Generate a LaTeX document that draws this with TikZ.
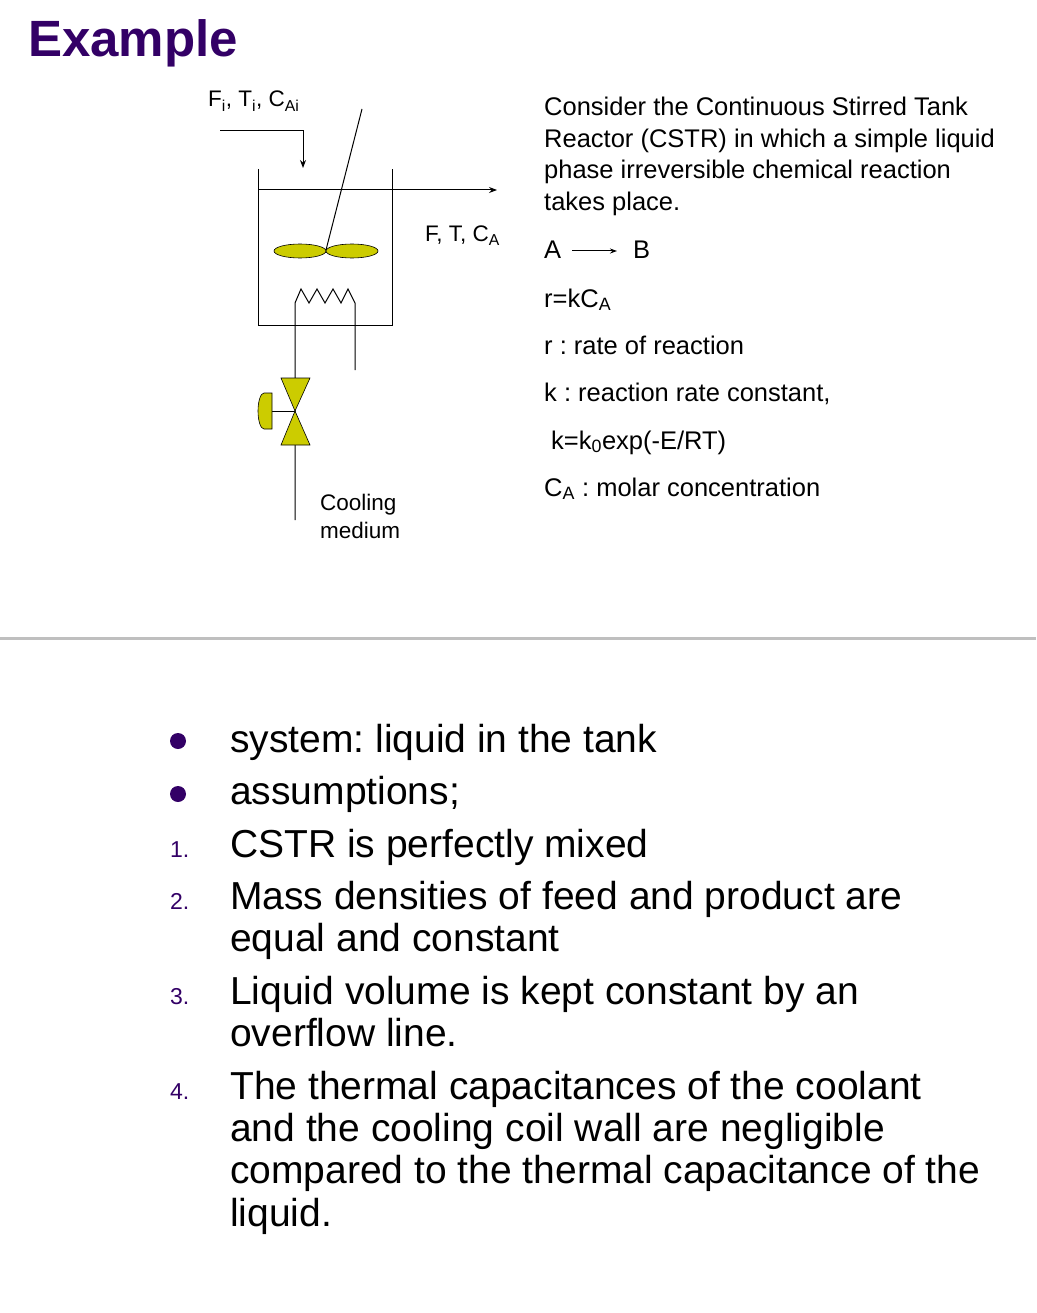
\documentclass[tikz,border=0pt]{standalone}
\usepackage{fontspec}
\setmainfont{Liberation Sans}
\usetikzlibrary{arrows.meta}
\definecolor{titlec}{HTML}{330066}
\definecolor{bulletc}{HTML}{330066}
\definecolor{yel}{HTML}{CCCC00}
\frenchspacing
\begin{document}
\begin{tikzpicture}[x=1pt,y=-1pt,
  lbl/.style={inner sep=0,anchor=base west,font=\fontsize{22.5}{25}\selectfont},
  rt/.style={inner sep=0,anchor=base west,font=\fontsize{25.5}{29}\selectfont},
  it/.style={inner sep=0,anchor=base west,font=\fontsize{39}{42}\selectfont},
  num/.style={inner sep=0,anchor=base west,font=\fontsize{23}{26}\selectfont,text=bulletc},
  pipe/.style={line width=1pt},
  fillyel/.style={fill=yel,draw=black,line width=0.6pt}]
\useasboundingbox (0,0) rectangle (1036,1313);
% title
\node[inner sep=0,anchor=base west,font=\fontsize{51}{56}\bfseries\selectfont,text=titlec] (title) at (28,57) {Example};
% tank
\draw[pipe] (258,169) -- (258,325) -- (392,325) -- (392,169);
\coordinate (inA) at (220,131); \coordinate (inB) at (303,131); \coordinate (inC) at (303,168);
\draw[pipe,-{Stealth[length=8pt,width=6pt]}] (inA) -- (inB) -- (inC);
\coordinate (lvA) at (258,190); \coordinate (lvB) at (497,190);
\draw[pipe,-{Stealth[length=8pt,width=6pt]}] (lvA) -- (lvB);
\coordinate (shT) at (362,109); \coordinate (shB) at (326,250);
\draw[pipe] (shT) -- (shB);
\draw[fillyel] (300,251) ellipse (26 and 7);
\draw[fillyel] (352,251) ellipse (26 and 7);
% coil
\draw[pipe] (295,520) -- (295,303) -- (301,289) -- (309,303) -- (317,289) -- (325,303) -- (333,289) -- (341,303) -- (348,289) -- (355,303) -- (355,370);
% valve
\draw[pipe] (295,411) -- (272,411);
\draw[fillyel] (281,378) -- (310,378) -- (295,411) -- cycle;
\draw[fillyel] (295,411) -- (281,445) -- (310,445) -- cycle;
\draw[fillyel] (272,393) -- (264,393) arc[start angle=90,end angle=270,x radius=6,y radius=-18] -- (272,429) -- cycle;
% labels
\node[lbl] (fi) at (208,107) {F\textsubscript{i}, T\textsubscript{i}, C\textsubscript{Ai}};
\node[lbl] (fo) at (425,242) {F, T, C\textsubscript{A}};
\node[lbl] (cool1) at (320,510) {Cooling};
\node[lbl] (cool2) at (320,538) {medium};
% right text
\node[rt] (r1) at (544,116) {Consider the Continuous Stirred Tank};
\node[rt] (r2) at (544,148) {Reactor (CSTR) in which a simple liquid};
\node[rt] (r3) at (544,179) {phase irreversible chemical reaction};
\node[rt] (r4) at (544,211) {takes place.};
\node[rt] (rA) at (544,259) {A};
\node[rt] (rB) at (633,259) {B};
\draw[pipe,-{Stealth[length=7pt,width=5pt]}] (572,251) -- (617,251);
\node[rt] (r5) at (544,307) {r=kC\textsubscript{A}};
\node[rt] (r6) at (544,354) {r : rate of reaction};
\node[rt] (r7) at (544,401) {k : reaction rate constant,};
\node[rt] (r8) at (551,449) {k=k\textsubscript{0}exp(-E/RT)};
\node[rt] (r9) at (544,496) {C\textsubscript{A} : molar concentration};
% separator
\draw[line width=3pt,color=black!25] (0,638) -- (1036,638);
% list
\fill[bulletc] (178,741) circle (8);
\fill[bulletc] (178,794) circle (8);
\node[it] (l1) at (230,752) {system: liquid in the tank};
\node[it] (l2) at (230,804) {assumptions;};
\node[num] (n1) at (170,857) {1.};
\node[it] (l3) at (230,857) {CSTR is perfectly mixed};
\node[num] (n2) at (170,909) {2.};
\node[it] (l4) at (230,909) {Mass densities of feed and product are};
\node[it] (l4b) at (230,951) {equal and constant};
\node[num] (n3) at (170,1004) {3.};
\node[it] (l5) at (230,1004) {Liquid volume is kept constant by an};
\node[it] (l5b) at (230,1046) {overflow line.};
\node[num] (n4) at (170,1099) {4.};
\node[it] (l6) at (230,1099) {The thermal capacitances of the coolant};
\node[it] (l6b) at (230,1141) {and the cooling coil wall are negligible};
\node[it] (l6c) at (230,1183) {compared to the thermal capacitance of the};
\node[it] (l6d) at (230,1226) {liquid.};
\end{tikzpicture}
\end{document}
